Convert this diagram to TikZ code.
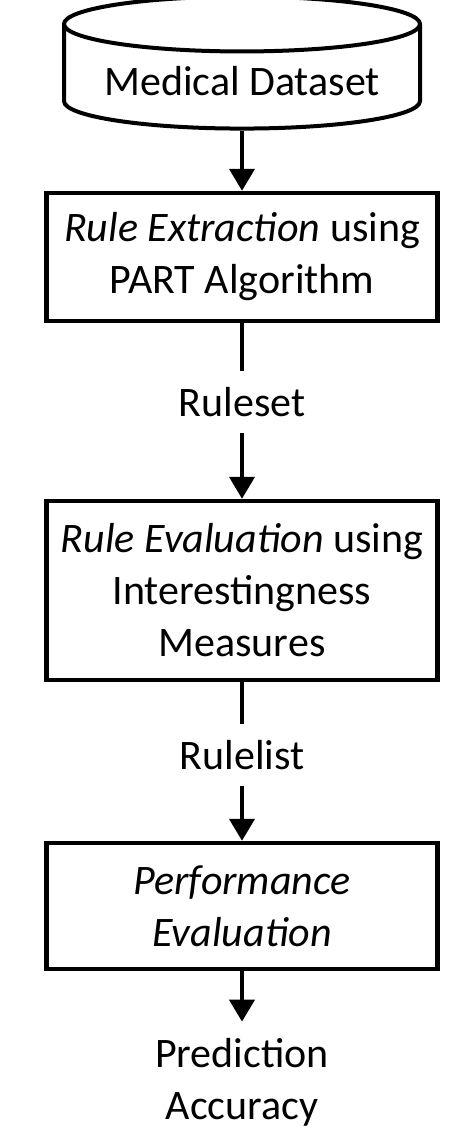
\documentclass[tikz,border=0pt]{standalone}
\usepackage{fontspec}
\setmainfont{Carlito}
\usetikzlibrary{shapes,arrows.meta}
\tikzstyle{block} = [rectangle, draw, line width=2.2pt, align=center,
    minimum width=195.5pt, minimum height=64pt]
\tikzstyle{db} = [cylinder, shape border rotate=90, draw, line width=2pt,
    aspect=0.19, minimum height=66pt, minimum width=178pt]
\tikzstyle{label} = [align=center, inner sep=8pt]
\tikzstyle{line} = [draw, line width=2pt, -{Triangle[width=12.5pt,length=11pt]}]
\tikzstyle{stub} = [draw, line width=2pt]

\begin{document}
\begin{tikzpicture}[node distance = 85pt, font=\fontsize{21}{26}\selectfont]
  \useasboundingbox (0,0) rectangle (237pt,-568.5pt);
  % Place nodes
  \node [db] (data) at (121pt,-40.5pt) {Medical Dataset};
  \node [block, below of=data, yshift=-3pt] (extract) {\textit{Rule Extraction} using\\PART Algorithm};
  \node [label, below of=extract, yshift=12.5pt] (ruleset) {Ruleset};
  \node [block, below of=ruleset, yshift=-9.25pt, minimum height=89.5pt] (evaluate) {\textit{Rule Evaluation} using\\Interestingness\\Measures};
  \node [label, below of=evaluate, yshift=2.75pt] (rulelist) {Rulelist};
  \node [block, below of=rulelist, yshift=9.5pt, minimum height=63pt] (perf) {\textit{Performance}\\\textit{Evaluation}};
  \node [label, below of=perf, yshift=-3pt] (acc) {Prediction\\Accuracy};
  % Draw edges
  \path [line] (data) -- (extract);
  \path [stub] (extract) -- (ruleset);
  \path [line] (ruleset) -- (evaluate);
  \path [stub] (evaluate) -- (rulelist);
  \path [line] (rulelist) -- (perf);
  \path [line] (perf) -- (acc);
\end{tikzpicture}
\end{document}
